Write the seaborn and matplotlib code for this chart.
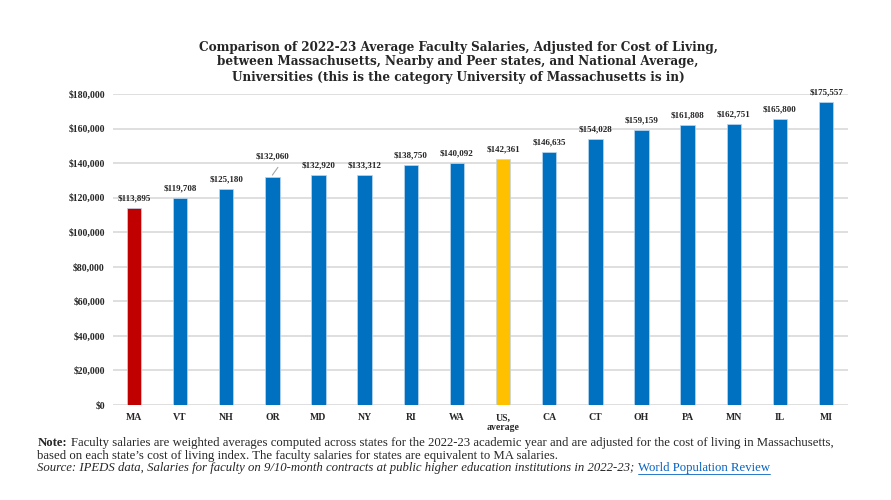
import numpy as np
import pandas as pd
import matplotlib.pyplot as plt
import seaborn as sns

# Data
states = ["MA", "VT", "NH", "OR", "MD", "NY", "RI", "WA", "US,\naverage",
          "CA", "CT", "OH", "PA", "MN", "IL", "MI"]
salaries = [113895, 119708, 125180, 132060, 132920, 133312, 138750, 140092,
            142361, 146635, 154028, 159159, 161808, 162751, 165800, 175557]
bar_colors = ["#C00000"] + ["#0070C0"] * 7 + ["#FFC000"] + ["#0070C0"] * 7

df = pd.DataFrame({"state": states, "salary": salaries})

sns.set_style("white")
plt.rcParams["font.family"] = ["Liberation Serif", "DejaVu Serif"]

fig = plt.figure(figsize=(8.91, 5.0), dpi=100)
ax = fig.add_axes([0.127, 0.19, 0.825, 0.622])

sns.barplot(data=df, x="state", y="salary", hue="state", palette=bar_colors,
            legend=False, width=0.31, saturation=1, edgecolor="#BDD7EE",
            linewidth=0.5, ax=ax)

ax.set_ylim(0, 180000)
ax.set_xlim(-0.45, 15.48)
ax.set_yticks(np.arange(0, 180001, 20000))
ax.set_yticklabels([f"${v:,.0f}" for v in np.arange(0, 180001, 20000)],
                   fontsize=7, fontweight="bold")
ax.set_xticks(range(len(states)))
ax.set_xticklabels(states, fontsize=7, fontweight="bold", linespacing=1.1)
ax.tick_params(axis="both", length=0, pad=6)
ax.set_xlabel("")
ax.set_ylabel("")
ax.grid(axis="y", color="#D9D9D9", linewidth=1.2)
ax.set_axisbelow(True)
for s in ax.spines.values():
    s.set_visible(False)

# value labels
for i, v in enumerate(salaries):
    dy = 4
    if states[i] == "OR":
        dy = 12
        ax.plot([i, i + 0.12], [v + 1000, v + 5500], color="#A6A6A6", lw=0.8)
    ax.annotate(f"${v:,.0f}", (i, v), xytext=(0, dy), textcoords="offset points",
                ha="center", va="bottom", fontsize=6.5, fontweight="bold",
                annotation_clip=False)

fig.text(0.514, 0.919,
         "Comparison of 2022-23 Average Faculty Salaries, Adjusted for Cost of Living,\n"
         "between Massachusetts, Nearby and Peer states, and National Average,\n"
         "Universities (this is the category University of Massachusetts is in)",
         ha="center", va="top", fontsize=9.6, fontweight="bold", linespacing=1.2,
         family=["DejaVu Serif"], fontstretch="condensed")

# notes
fs = 9.2
note = fig.text(0.042, 0.114, "Note:", fontsize=fs, fontweight="bold", ha="left",
                va="center")
fig.canvas.draw()
nb = note.get_window_extent()
fig.text(nb.x1 / fig.bbox.width + 0.004, 0.114,
         "Faculty salaries are weighted averages computed across states for the 2022-23 "
         "academic year and are adjusted for the cost of living in Massachusetts,",
         fontsize=fs, ha="left", va="center")
fig.text(0.042, 0.089,
         "based on each state\u2019s cost of living index. The faculty salaries for "
         "states are equivalent to MA salaries.",
         fontsize=fs, ha="left", va="center")
src = fig.text(0.042, 0.064,
               "Source: IPEDS data, Salaries for faculty on 9/10-month contracts at "
               "public higher education institutions in 2022-23; ",
               fontsize=fs, ha="left", va="center", style="italic")
fig.canvas.draw()
bb = src.get_window_extent()
x_link = bb.x1 / fig.bbox.width
link = fig.text(x_link, 0.064, "World Population Review", fontsize=fs,
                ha="left", va="center", color="#0563C1")
fig.canvas.draw()
lb = link.get_window_extent()
fig.add_artist(plt.Line2D([lb.x0 / fig.bbox.width, lb.x1 / fig.bbox.width],
                          [lb.y0 / fig.bbox.height, lb.y0 / fig.bbox.height],
                          color="#0563C1", lw=0.6))

fig.savefig("out.png", dpi=100)
